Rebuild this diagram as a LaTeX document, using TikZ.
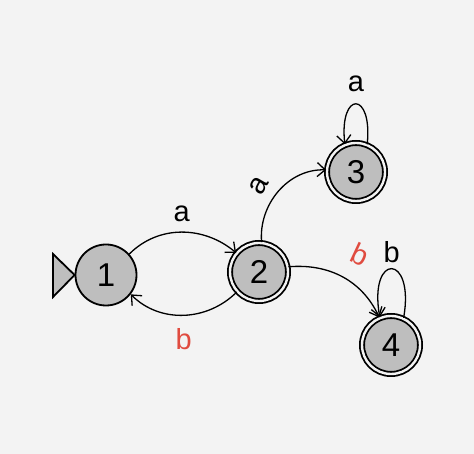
\documentclass[tikz,border=0pt]{standalone}
\usepackage{fontspec}
\setmainfont{Liberation Sans}
\usetikzlibrary{arrows.meta}
\definecolor{bg}{HTML}{F3F3F3}
\definecolor{stfill}{HTML}{BEBEBE}
\definecolor{lblred}{HTML}{E04B3F}
\tikzset{
  state/.style={circle, draw=black, fill=stfill, line width=1.8pt, minimum size=61pt, inner sep=0pt, font=\fontsize{33}{33}\selectfont},
  accept/.style={state, minimum size=58pt, double=bg, double distance=2.4pt},
  trans/.style={draw=black, line width=1.3pt, -{Straight Barb[length=8pt,width=14pt,line width=1.3pt]}},
  lbl/.style={font=\fontsize{29}{29}\selectfont, inner sep=0pt},
  redlbl/.style={lbl, text=lblred}
}
\begin{document}
\begin{tikzpicture}[x=1pt,y=1pt]
\fill[bg] (0,0) rectangle (474,454);
\useasboundingbox (0,0) rectangle (474,454);
\node[state] (n1) at (106,179) {1};
\node[accept] (n2) at (259,182) {2};
\node[accept] (n3) at (356,282) {3};
\node[accept] (n4) at (391,109) {4};
% initial marker
\coordinate (itop) at (53,200);
\coordinate (ibot) at (53,157);
\draw[fill=stfill, line width=1.8pt, line join=miter] (itop) -- (n1.west) -- (ibot) -- cycle;
% transitions
\draw[trans] (n1.42) to[out=45, in=140] node[lbl, pos=0.5, above=10pt] {a} (n2.140);
\draw[trans] (n2.222) to[out=225, in=-45] node[redlbl, pos=0.5, below=13pt] {b} (n1.-38);
\draw[trans] (n2.85) to[out=95, in=178] node[lbl, pos=0.5, anchor=center, xshift=-20pt, yshift=6pt, rotate=60] {a} (n3.176);
\draw[trans] (n2.10) to[out=5, in=115] node[redlbl, pos=0.55, anchor=center, xshift=13pt, yshift=25pt, rotate=-25] {b} (n4.113);
\draw[trans] (n3.68) .. controls +(84:54) and +(96:54) .. node[lbl, pos=0.5, above=12pt] {a} (n3.112);
\draw[trans] (n4.65) .. controls +(80:66) and +(100:66) .. node[lbl, pos=0.5, above=5pt] {b} (n4.112);
\end{tikzpicture}
\end{document}
